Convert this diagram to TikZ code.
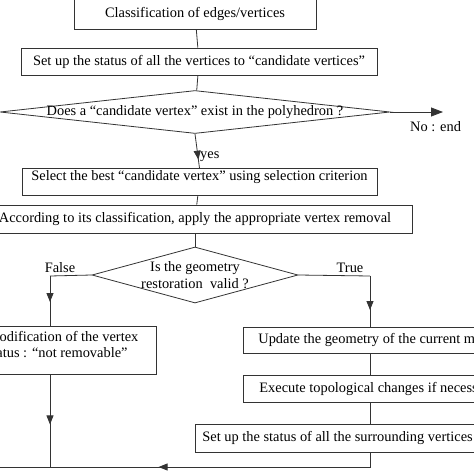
\documentclass[tikz,border=0pt]{standalone}
\usepackage{fontspec}
\setmainfont{Liberation Serif}
\usetikzlibrary{shapes.geometric,arrows.meta,decorations.markings}

\tikzset{
  stepbox/.style={rectangle, draw=black!80, line width=0.8pt, inner ysep=0pt,
    text height=10pt, text depth=3pt, minimum height=27pt, font=\fontsize{14.4}{16.5}\selectfont},
  decision/.style={diamond, draw=black!80, line width=0.8pt, inner sep=0pt},
  txt/.style={font=\fontsize{14.4}{16.5}\selectfont, inner sep=0pt},
  link/.style={draw=black!80, line width=0.8pt},
  midarrow/.style={postaction={decorate, decoration={markings,
    mark=at position #1 with {\arrow{Triangle[length=9pt,width=7pt]}}}}}
}

\begin{document}
\begin{tikzpicture}[x=1pt,y=-1pt]
        \useasboundingbox (0,0) rectangle (474,474);
        \clip (0,0) rectangle (474,474);

        \node[stepbox, minimum width=242pt, minimum height=30pt] (classif) at (195,14) {Classification of edges/vertices};
        \node[stepbox, minimum width=356pt] (setup) at (199,61.5) {Set up the status of all the vertices to ``candidate vertices''};
        \node[decision, minimum width=390pt, minimum height=43pt,
              label={[txt]center:Does a ``candidate vertex'' exist in the polyhedron ?}] (exist) at (195,112) {};
        \node[stepbox, minimum width=355pt, text depth=13pt] (select) at (199.5,182) {Select the best ``candidate vertex'' using selection criterion};
        \node[stepbox, minimum width=434pt, minimum height=28pt] (apply) at (195,219) {According to its classification, apply the appropriate vertex removal};
        \node[decision, minimum width=206pt, minimum height=56pt,
              label={[txt, align=center]center:Is the geometry\\restoration\ \ valid ?}] (valid) at (195,275) {};
        \node[stepbox, minimum width=178pt, minimum height=48pt,
              label={[txt, align=left, anchor=west, xshift=9pt, yshift=5.5pt]west:Modification of the vertex\\status : ``not removable''}] (notrem) at (67,350) {};
        \node[stepbox, anchor=west, inner xsep=15pt, minimum height=26pt] (update) at (243,340) {Update the geometry of the current mesh};
        \node[stepbox, anchor=west, inner xsep=16pt] (topo) at (243,388.5) {Execute topological changes if necessary};
        \node[stepbox, anchor=west, inner xsep=7pt, minimum height=28pt] (around) at (195,438) {Set up the status of all the surrounding vertices to ``candidate vertices''};

        \node[txt, anchor=north west] (noend) at (410,121) {No : end};
        \node[txt, anchor=west] (yes) at (200,157) {yes};
        \node[txt] (false) at (60,268) {False};
        \node[txt] (true) at (350,268) {True};

        \coordinate (fl) at (50,276);
        \coordinate (tr) at (370,276);
        \coordinate (stop) at (443,112);
        \coordinate (join) at (-10,467);

        \foreach \from/\to in {classif/setup, setup/exist, select/apply, apply/valid}
            \draw[link] (\from) -- (\to);
        \draw[link, -{Triangle[length=12pt,width=9pt]}] (exist.east) -- (stop);
        \draw[link, midarrow=26pt] (exist.south) -- (select.north);
        \draw[link] (valid.west) -- (fl);
        \draw[link, midarrow=26pt] (fl) -- (notrem.north -| fl);
        \draw[link] (valid.east) -- (tr);
        \draw[link, midarrow=34pt] (tr) -- (update.north -| tr);
        \draw[link] (update.south -| tr) -- (topo.north -| tr);
        \draw[link] (topo.south -| tr) -- (around.north -| tr);
        \draw[link, midarrow=50pt] (notrem.south -| fl) -- (fl |- join);
        \draw[link, midarrow=226pt] (around.south -| tr) -- (tr |- join) -- (join);
      \end{tikzpicture}
\end{document}
